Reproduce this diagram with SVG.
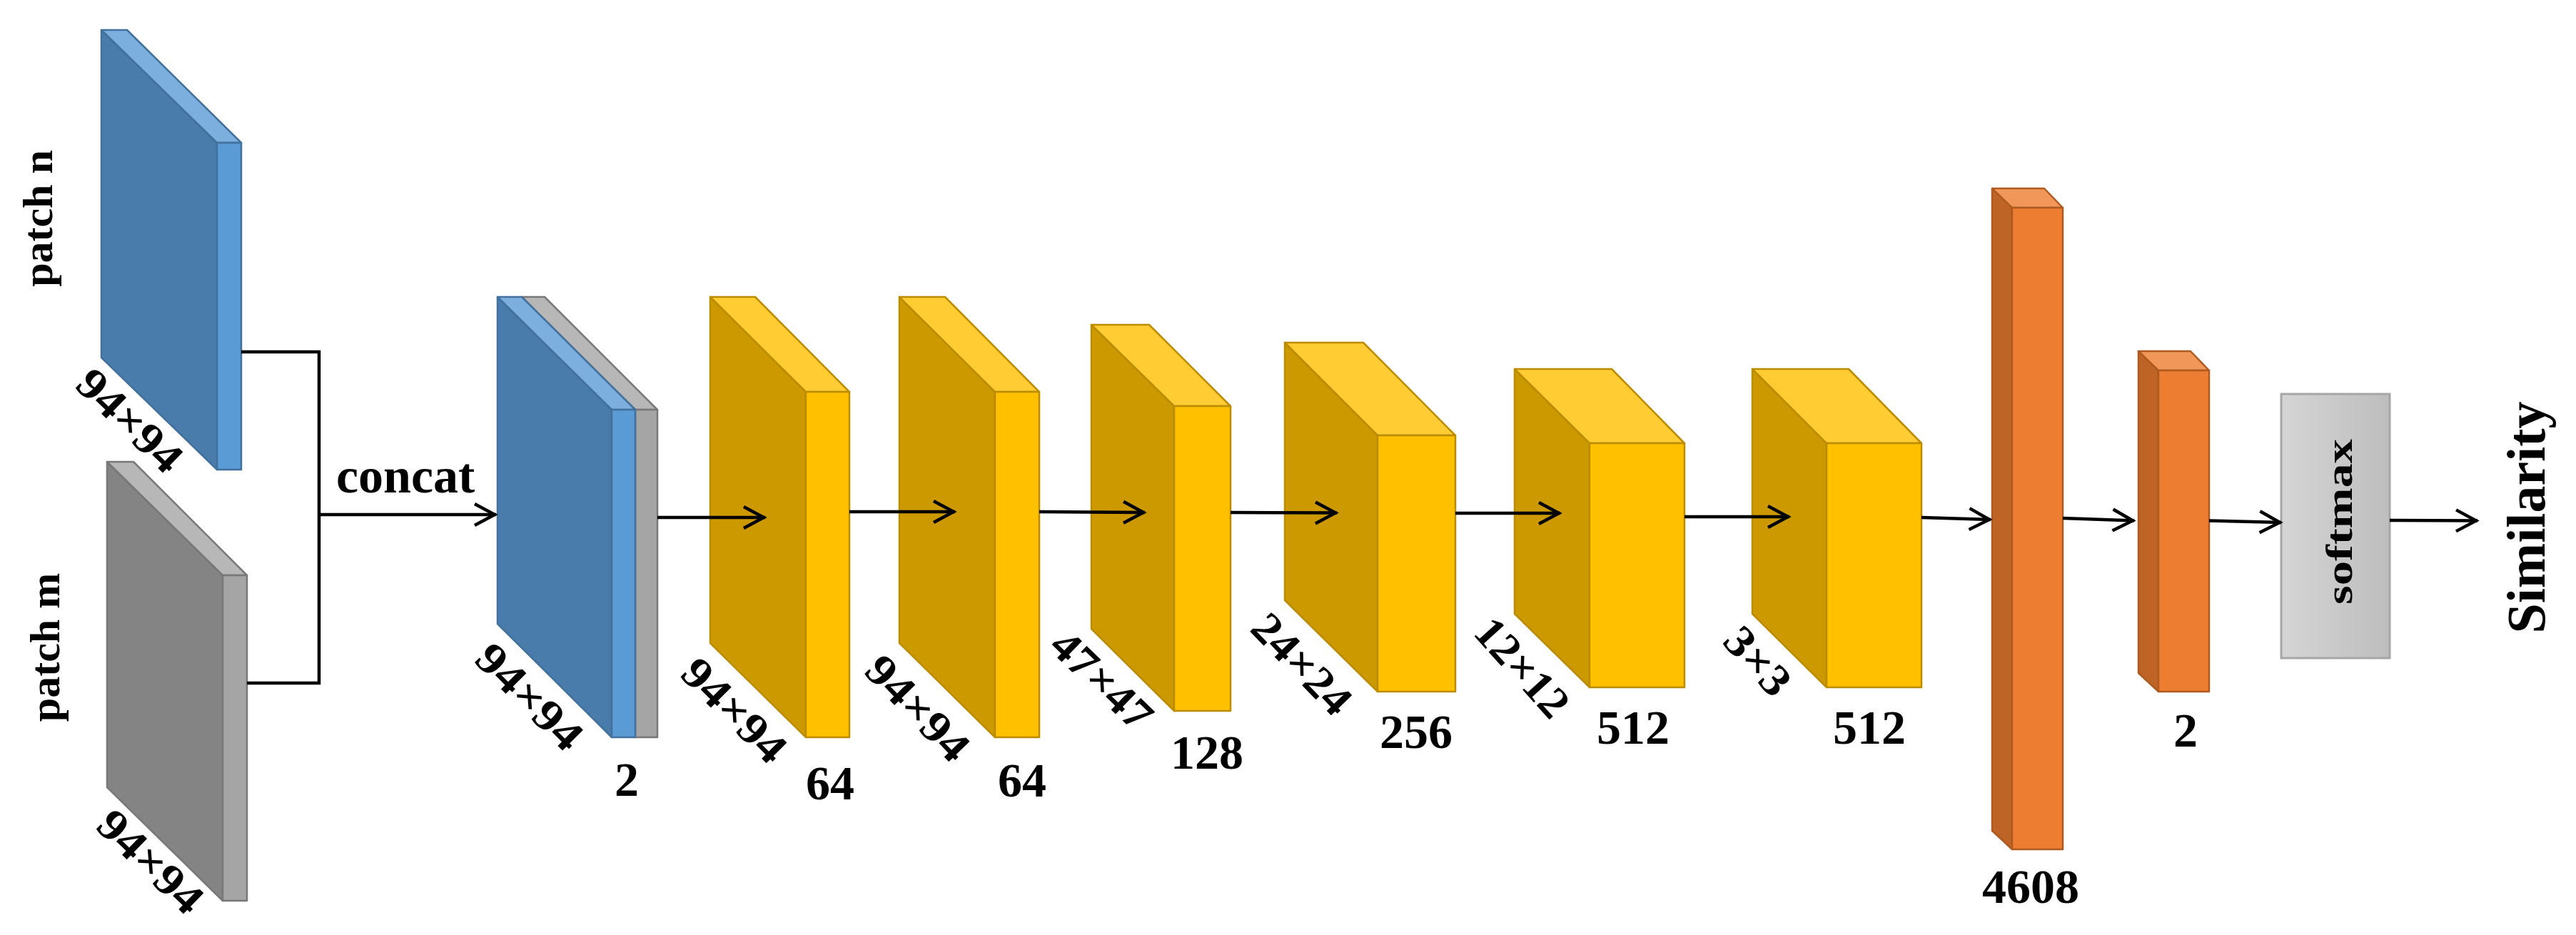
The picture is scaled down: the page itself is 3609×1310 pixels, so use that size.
<svg xmlns="http://www.w3.org/2000/svg" width="3609" height="1310" viewBox="0 0 3609 1310">
<defs>
<style>
.t{font-family:"Liberation Serif","Times New Roman",serif;font-weight:bold;fill:#000}
.n{font-size:68px;text-anchor:middle}
.d{font-size:62px;text-anchor:middle}
.v{text-anchor:middle}
.conn{fill:none;stroke:#000;stroke-width:4.5;stroke-linejoin:miter}
.bs,.bt,.bf{stroke:#41719C;stroke-width:2.5;stroke-linejoin:round}
.bs{fill:#497CAA}.bt{fill:#7CAFDD}.bf{fill:#5B9BD5}
.gs,.gt,.gf{stroke:#787878;stroke-width:2.5;stroke-linejoin:round}
.gs{fill:#848484}.gt{fill:#B7B7B7}.gf{fill:#A5A5A5}
.ys,.yt,.yf{stroke:#BC8C00;stroke-width:2.5;stroke-linejoin:round}
.ys{fill:#CC9A00}.yt{fill:#FFCD33}.yf{fill:#FFC000}
.os,.ot,.of{stroke:#AE5A21;stroke-width:2.5;stroke-linejoin:round}
.os{fill:#BE6427}.ot{fill:#F1975A}.of{fill:#ED7D31}
</style>
<linearGradient id="sg" x1="0" x2="1" y1="0" y2="0">
<stop offset="0" stop-color="#D5D5D5"/>
<stop offset="1" stop-color="#BDBDBD"/>
</linearGradient>
<marker id="ah" markerUnits="userSpaceOnUse" viewBox="-40 -20 46 40" markerWidth="46" markerHeight="40" refX="0" refY="0" orient="auto">
<path d="M-30,-15 L-2,0 L-30,15" fill="none" stroke="#000" stroke-width="4.5"/>
</marker>
</defs>
<rect x="0" y="0" width="3609" height="1310" fill="#fff"/>

<g id="patch-n">
<polygon class="bs" points="142,42 304,200 304,658 142,501"/>
<polygon class="bt" points="142,42 178,42 338,200 304,200"/>
<rect class="bf" x="304" y="200" width="34" height="458"/>
<text class="t v" font-size="60" transform="translate(73,306) rotate(-90)">patch n</text>
<text class="t d" transform="translate(182,589) rotate(44)" y="21" textLength="180" lengthAdjust="spacingAndGlyphs">94×94</text>
</g>

<g id="patch-m">
<polygon class="gs" points="150,647 312,806 312,1262 150,1103"/>
<polygon class="gt" points="150,647 187,647 346,806 312,806"/>
<rect class="gf" x="312" y="806" width="34" height="456"/>
<text class="t v" font-size="60" transform="translate(83,907) rotate(-90)">patch m</text>
<text class="t d" transform="translate(211,1207) rotate(44)" y="21" textLength="180" lengthAdjust="spacingAndGlyphs">94×94</text>
</g>

<g id="concat-layer">
<polygon class="gt" points="731,416 763,416 921,574 890,574"/>
<rect class="gf" x="890" y="574" width="31" height="459"/>
<polygon class="bs" points="697,416 857,574 857,1033 697,874"/>
<polygon class="bt" points="697,416 731,416 890,574 857,574"/>
<rect class="bf" x="857" y="574" width="33" height="459"/>
<text class="t d" transform="translate(742,976) rotate(45)" y="21" textLength="184" lengthAdjust="spacingAndGlyphs">94×94</text>
<text class="t n" x="878" y="1115">2</text>
</g>

<g id="conv1">
<polygon class="ys" points="995,416 1129,549 1129,1033 995,901"/>
<polygon class="yt" points="995,416 1058,416 1190,549 1129,549"/>
<rect class="yf" x="1129" y="549" width="61" height="484"/>
<text class="t d" transform="translate(1029,995) rotate(45)" y="21" textLength="180" lengthAdjust="spacingAndGlyphs">94×94</text>
<text class="t n" x="1163" y="1120">64</text>
</g>

<g id="conv2">
<polygon class="ys" points="1260,416 1394,549 1394,1033 1260,901"/>
<polygon class="yt" points="1260,416 1324,416 1456,549 1394,549"/>
<rect class="yf" x="1394" y="549" width="62" height="484"/>
<text class="t d" transform="translate(1286,992) rotate(46)" y="21" textLength="180" lengthAdjust="spacingAndGlyphs">94×94</text>
<text class="t n" x="1432" y="1116">64</text>
</g>

<g id="conv3">
<polygon class="ys" points="1529,455 1645,569 1645,996 1529,881"/>
<polygon class="yt" points="1529,455 1610,455 1724,569 1645,569"/>
<rect class="yf" x="1645" y="569" width="79" height="427"/>
<text class="t d" transform="translate(1544,953) rotate(44)" y="21" textLength="172" lengthAdjust="spacingAndGlyphs">47×47</text>
<text class="t n" x="1691" y="1077">128</text>
</g>

<g id="conv4">
<polygon class="ys" points="1800,480 1930,610 1930,969 1800,841"/>
<polygon class="yt" points="1800,480 1910,480 2039,610 1930,610"/>
<rect class="yf" x="1930" y="610" width="109" height="359"/>
<text class="t d" transform="translate(1824,930) rotate(46)" y="21" textLength="172" lengthAdjust="spacingAndGlyphs">24×24</text>
<text class="t n" x="1984" y="1048">256</text>
</g>

<g id="conv5">
<polygon class="ys" points="2122,517 2227,621 2227,963 2122,860"/>
<polygon class="yt" points="2122,517 2258,517 2360,621 2227,621"/>
<rect class="yf" x="2227" y="621" width="133" height="342"/>
<text class="t d" transform="translate(2133,935) rotate(48)" y="21" textLength="165" lengthAdjust="spacingAndGlyphs">12×12</text>
<text class="t n" x="2288" y="1042">512</text>
</g>

<g id="conv6">
<polygon class="ys" points="2455,517 2559,621 2559,963 2455,860"/>
<polygon class="yt" points="2455,517 2590,517 2692,621 2559,621"/>
<rect class="yf" x="2559" y="621" width="133" height="342"/>
<text class="t d" transform="translate(2463,926) rotate(48)" y="21" textLength="108" lengthAdjust="spacingAndGlyphs">3×3</text>
<text class="t n" x="2619" y="1042">512</text>
</g>

<g id="fc1">
<polygon class="os" points="2791,264 2819,291 2819,1190 2791,1164"/>
<polygon class="ot" points="2791,264 2864,264 2890,291 2819,291"/>
<rect class="of" x="2819" y="291" width="71" height="899"/>
<text class="t n" x="2845" y="1265">4608</text>
</g>

<g id="fc2">
<polygon class="os" points="2996,492 3024,519 3024,969 2996,943"/>
<polygon class="ot" points="2996,492 3069,492 3095,519 3024,519"/>
<rect class="of" x="3024" y="519" width="71" height="450"/>
<text class="t n" x="3062" y="1046">2</text>
</g>

<g id="softmax">
<rect x="3196" y="552" width="152" height="370" fill="url(#sg)" stroke="#A6A6A6" stroke-width="3"/>
<text class="t v" font-size="53" transform="translate(3295,731) rotate(-90)" textLength="232" lengthAdjust="spacingAndGlyphs">softmax</text>
</g>

<g id="similarity">
<text class="t v" font-size="76" transform="translate(3565,725) rotate(-90)">Similarity</text>
</g>

<g id="connectors">
<path class="conn" d="M338,493 H447 V957 H346"/>
<path class="conn" d="M447,721 H695" marker-end="url(#ah)"/>
<text class="t" font-size="70" x="471" y="690">concat</text>
<path class="conn" d="M921,725 H1072" marker-end="url(#ah)"/>
<path class="conn" d="M1190,717 H1338" marker-end="url(#ah)"/>
<path class="conn" d="M1456,717 L1604,718" marker-end="url(#ah)"/>
<path class="conn" d="M1724,718 L1873,718.5" marker-end="url(#ah)"/>
<path class="conn" d="M2039,719 H2186" marker-end="url(#ah)"/>
<path class="conn" d="M2360,724 H2507" marker-end="url(#ah)"/>
<path class="conn" d="M2692,725 L2789,728" marker-end="url(#ah)"/>
<path class="conn" d="M2890,726 L2990,729.5" marker-end="url(#ah)"/>
<path class="conn" d="M3095,729.5 L3196,732" marker-end="url(#ah)"/>
<path class="conn" d="M3348,729 L3471,729.5" marker-end="url(#ah)"/>
</g>
</svg>
